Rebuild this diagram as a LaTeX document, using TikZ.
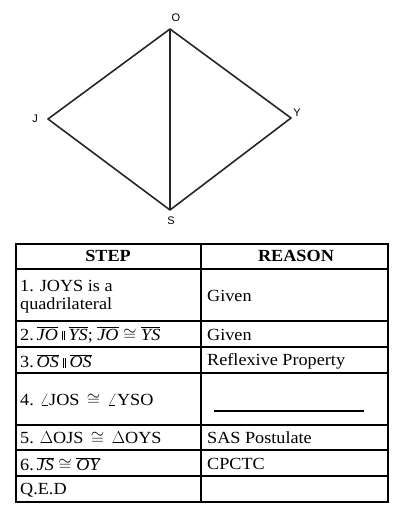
\documentclass[tikz,border=0pt]{standalone}
\usepackage{fontspec}
\setmainfont{Liberation Serif}[FakeStretch=1.07]
\newfontfamily\lblfont{Liberation Sans}
\newcommand{\seg}[1]{$\overline{\mbox{\itshape #1}}$}
\newcommand{\parl}{\hspace{4pt}\rule{0.7pt}{0.55em}\hspace{1.3pt}\rule{0.7pt}{0.55em}\hspace{4pt}}
\begin{document}
\begin{tikzpicture}[x=1pt,y=-1pt,
  edge/.style={line width=1.6pt,color=black!85},
  vlabel/.style={font=\lblfont\fontsize{11}{13}\selectfont,inner sep=0pt},
  grid/.style={line width=1.2pt},
  cell/.style={font=\fontsize{17}{19}\selectfont,anchor=west,inner sep=0pt},
  head/.style={font=\bfseries\fontsize{17}{19}\selectfont,inner sep=0pt}]
\useasboundingbox (0,0) rectangle (402,517);
% geometry
\coordinate (O) at (170,29);
\coordinate (J) at (48,119);
\coordinate (Y) at (291,118);
\coordinate (S) at (170,210);
\draw[edge,line join=round] (O) -- (J) -- (S) -- (Y) -- cycle;
\draw[edge] (O) -- (S);
\node[vlabel] (lO) at (176,18) {O};
\node[vlabel] (lJ) at (35,119) {J};
\node[vlabel] (lY) at (297,113) {Y};
\node[vlabel] (lS) at (171,221) {S};
% table
\draw[grid] (16,244) rectangle (388,502);
\draw[grid] (201,244) -- (201,502);
\foreach \yy in {269,321,347,373,425,450,476}
  \draw[grid] (16,\yy) -- (388,\yy);
\node[head] (h1) at (108,256) {STEP};
\node[head] (h2) at (296,256) {REASON};
\node[cell] (s1a) at (20,286) {1. JOYS is a};
\node[cell] (s1b) at (20,305) {quadrilateral};
\node[cell] (r1) at (207,296) {Given};
\node[cell] (s2) at (20,335) {2.\,\seg{JO}\parl\seg{YS}; \seg{JO} $\cong$ \seg{YS}};
\node[cell] (r2) at (207,335) {Given};
\node[cell] (s3) at (20,361) {3.\,\seg{OS}\parl\seg{OS}};
\node[cell] (r3) at (207,361) {Reflexive Property};
\node[cell] (s4) at (20,400) {4. $\angle$JOS \,$\cong$\, $\angle$YSO};
\coordinate (b1) at (214,411);
\coordinate (b2) at (364,411);
\draw[line width=1.3pt] (b1) -- (b2);
\node[cell] (s5) at (20,438) {5. $\Delta$OJS \,$\cong$\, $\Delta$OYS};
\node[cell] (r5) at (207,438) {SAS Postulate};
\node[cell] (s6) at (20,464) {6.\,\seg{JS} $\cong$ \seg{OY}};
\node[cell] (r6) at (207,464) {CPCTC};
\node[cell] (s7) at (20,490) {Q.E.D};
\end{tikzpicture}
\end{document}
